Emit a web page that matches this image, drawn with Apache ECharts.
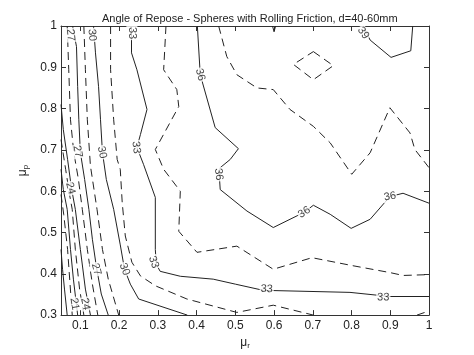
<!DOCTYPE html>
<html><head><meta charset="utf-8">
<script src="https://cdn.jsdelivr.net/npm/echarts@6/dist/echarts.min.js"></script>
<style>html,body{margin:0;padding:0;background:#fff}#c{width:474px;height:355px}</style>
</head><body><div id="c"></div>
<script>
// tick values
const xTicks = [0.1,0.2,0.3,0.4,0.5,0.6,0.7,0.8,0.9,1];
const yTicks = [0.3,0.4,0.5,0.6,0.7,0.8,0.9,1];

// contour lines, level -> [mu_r, mu_p] points
const c18 = [[0.05,0.459],[0.054,0.411],[0.059,0.363],[0.066,0.30]];
const c19_5 = [[0.05,0.592],[0.057,0.544],[0.067,0.459],[0.079,0.30]];
const c21 = [[0.05,0.653],[0.056,0.604],[0.066,0.556],[0.0745,0.459],[0.082,0.387],[0.093,0.30]];
const c22_5 = [[0.05,0.725],[0.062,0.653],[0.072,0.592],[0.079,0.556],[0.087,0.459],[0.098,0.363],[0.109,0.30]];
const c24 = [[0.05,0.81],[0.056,0.749],[0.067,0.677],[0.077,0.607],[0.087,0.556],[0.100,0.459],[0.113,0.363],[0.126,0.30]];
const c25_5 = [[0.066,1.0],[0.070,0.894],[0.0745,0.773],[0.083,0.694],[0.095,0.6285],[0.105,0.556],[0.118,0.459],[0.131,0.375],[0.145,0.30]];
const c27 = [[0.080,1.0],[0.090,0.95],[0.093,0.853],[0.096,0.773],[0.100,0.694],[0.111,0.6285],[0.122,0.556],[0.131,0.4836],[0.1415,0.416],[0.154,0.351],[0.172,0.30]];
const c28_5 = [[0.109,1.0],[0.113,0.894],[0.118,0.773],[0.126,0.661],[0.143,0.556],[0.157,0.459],[0.172,0.387],[0.199,0.30]];
const c30 = [[0.134,1.0],[0.139,0.935],[0.147,0.853],[0.152,0.773],[0.157,0.694],[0.167,0.6285],[0.186,0.556],[0.203,0.47],[0.214,0.411],[0.229,0.375],[0.2505,0.339],[0.376,0.30]];
const c31_5a = [[0.178,1.0],[0.178,0.894],[0.186,0.773],[0.195,0.677],[0.203,0.653],[0.208,0.573],[0.216,0.4915],[0.233,0.428],[0.255,0.395],[0.2935,0.371],[0.375,0.339],[0.504,0.3065],[0.598,0.324],[0.7015,0.30]];
const c31_5b = [[0.969,0.30],[1.0,0.31]];
const c33 = [[0.232,1.0],[0.232,0.935],[0.246,0.894],[0.272,0.798],[0.255,0.737],[0.246,0.706],[0.263,0.665],[0.2935,0.585],[0.2935,0.459],[0.296,0.423],[0.306,0.406],[0.358,0.394],[0.443,0.387],[0.500,0.375],[0.572,0.36],[0.796,0.355],[0.899,0.345],[1.0,0.345]];
const c34_5 = [[0.321,1.0],[0.315,0.894],[0.349,0.846],[0.354,0.805],[0.2935,0.701],[0.315,0.653],[0.358,0.6],[0.354,0.503],[0.401,0.452],[0.504,0.467],[0.598,0.411],[0.698,0.439],[0.801,0.42],[0.899,0.403],[0.933,0.396],[1.0,0.398]];
const c36 = [[0.402,1.0],[0.4095,0.882],[0.448,0.754],[0.508,0.703],[0.487,0.677],[0.461,0.657],[0.4585,0.641],[0.461,0.604],[0.530,0.552],[0.598,0.512],[0.678,0.549],[0.7015,0.566],[0.745,0.544],[0.799,0.51],[0.848,0.532],[0.899,0.587],[0.933,0.595],[1.0,0.571]];
const c37_5a = [[0.457,1.0],[0.478,0.926],[0.504,0.882],[0.556,0.85],[0.598,0.846],[0.641,0.798],[0.7015,0.757],[0.745,0.717],[0.8005,0.641],[0.848,0.693],[0.899,0.802],[0.951,0.741],[0.9635,0.701],[1.0,0.657]];
const c37_5b = [[0.7015,0.938],[0.753,0.904],[0.7015,0.870],[0.650,0.907],[0.7015,0.938]];
const c39 = [[0.830,1.0],[0.848,0.966],[0.902,0.924],[0.953,0.94],[0.958,1.0]];
const c39b = [[0.596,1.0],[0.6,0.986],[0.604,1.0]];

// contour labels: [mu_r, mu_p, text, angle]
const contourLabels = [
  [0.0745,0.978,'27',-85],[0.130,0.978,'30',-85],[0.233,0.983,'33',-90],[0.4095,0.882,'36',-75],[0.83,0.983,'39',-55],
  [0.093,0.696,'27',-80],[0.156,0.694,'30',-78],[0.244,0.706,'33',-85],[0.457,0.641,'36',-85],[0.0745,0.607,'24',-75],
  [0.678,0.549,'36',33],[0.899,0.587,'36',10],
  [0.141,0.411,'27',-75],[0.214,0.411,'30',-70],[0.289,0.428,'33',-70],
  [0.581,0.363,'33',-3],[0.882,0.343,'33',-2],
  [0.085,0.327,'21',-80],[0.113,0.327,'24',-80]
];

const solidLines = [c18,c21,c24,c27,c30,c33,c36,c39,c39b];
const dashedLines = [c19_5,c22_5,c25_5,c28_5,c31_5a,c31_5b,c34_5,c37_5a,c37_5b];

const FONT = 'Liberation Sans, Arial, sans-serif';
const INK = '#222';
const fmt = v => String(+(+v).toFixed(1));

const series = [];
solidLines.forEach(d => series.push({type:'line', data:d, symbol:'none', showSymbol:false, silent:true, animation:false, clip:true, z:2,
  lineStyle:{color:INK, width:1, type:'solid'}}));
dashedLines.forEach(d => series.push({type:'line', data:d, symbol:'none', showSymbol:false, silent:true, animation:false, clip:true, z:2,
  lineStyle:{color:INK, width:1, type:[8,5]}}));
series.push({type:'scatter', symbolSize:0, silent:true, animation:false, z:5,
  data: contourLabels.map(l => ({value:[l[0],l[1]], name:l[2], label:{rotate:l[3]}})),
  label:{show:true, position:'inside', formatter:p=>p.name, color:'#111', fontSize:11, fontFamily:FONT,
    backgroundColor:'#fff', padding:[0,1]}});

function xa(pos, showLabel){
  return {type:'value', min:0.05, max:1, position:pos,
    axisLine:{show:true, onZero:false, lineStyle:{color:'#333', width:1}},
    axisTick:{show:true, inside:true, length:5, customValues:xTicks, lineStyle:{color:'#333'}},
    axisLabel:{show:showLabel, customValues:xTicks, formatter:fmt, color:INK, fontSize:12, fontFamily:FONT, margin:5},
    splitLine:{show:false},
    name: showLabel ? '{m|μ}{s|r}' : '', nameLocation:'middle', nameGap:19,
    nameTextStyle:{rich:{m:{fontSize:12, fontFamily:FONT, color:INK}, s:{fontSize:8, fontFamily:FONT, color:INK, verticalAlign:'bottom', padding:[6,0,0,0]}}}};
}
function ya(pos, showLabel){
  return {type:'value', min:0.3, max:1, position:pos,
    axisLine:{show:true, onZero:false, lineStyle:{color:'#333', width:1}},
    axisTick:{show:true, inside:true, length:5, customValues:yTicks, lineStyle:{color:'#333'}},
    axisLabel:{show:showLabel, customValues:yTicks, formatter:fmt, color:INK, fontSize:12, fontFamily:FONT, margin:4},
    splitLine:{show:false},
    name: showLabel ? '{m|μ}{s|p}' : '', nameLocation:'middle', nameGap:24, nameRotate:90,
    nameTextStyle:{rich:{m:{fontSize:12, fontFamily:FONT, color:INK}, s:{fontSize:8, fontFamily:FONT, color:INK, padding:[6,0,0,0]}}}};
}

const chart = echarts.init(document.getElementById('c'), null, {renderer:'canvas'});
chart.setOption({
  animation:false,
  backgroundColor:'#fff',
  title:{text:'Angle of Repose - Spheres with Rolling Friction, d=40-60mm', left:97, top:8,
    textStyle:{fontSize:11, fontWeight:'normal', color:INK, fontFamily:FONT}},
  grid:{left:61, right:45, top:26, bottom:39},
  xAxis:[xa('bottom',true), xa('top',false)],
  yAxis:[ya('left',true), ya('right',false)],
  series: series
});
</script></body></html>
